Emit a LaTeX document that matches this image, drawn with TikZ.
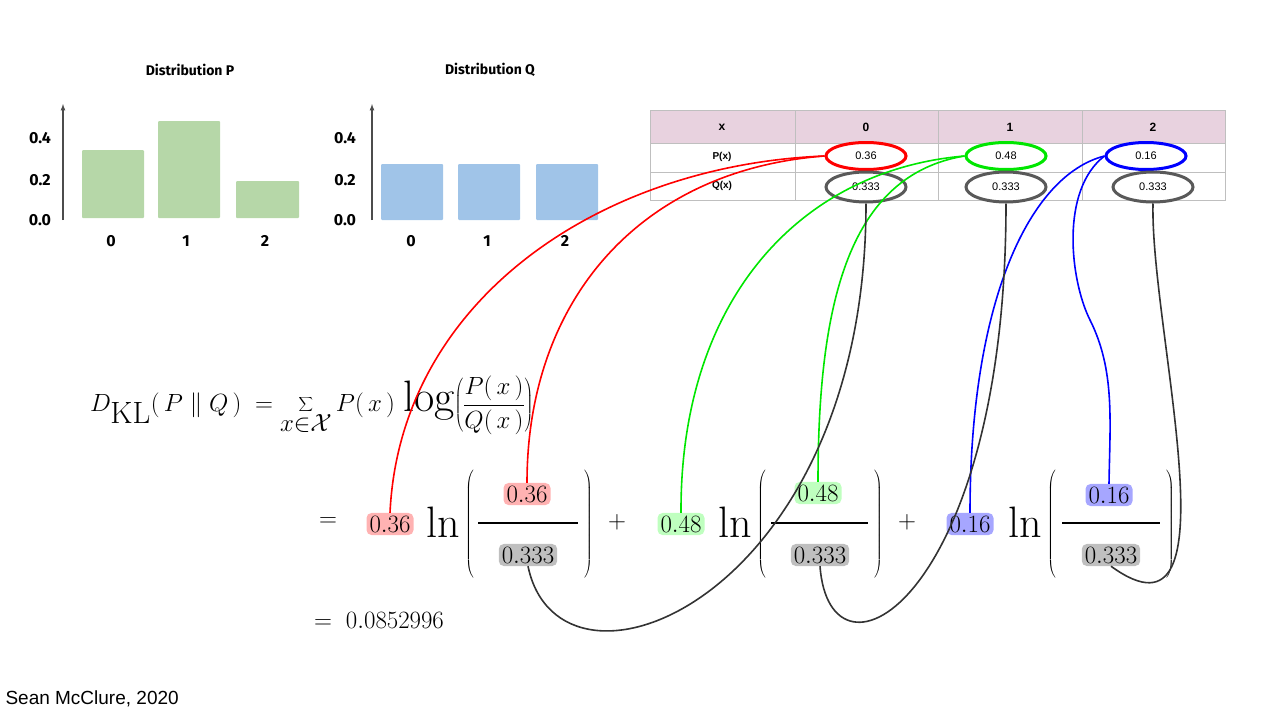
\documentclass[tikz,border=0pt]{standalone}
\usepackage{fontspec}
\usetikzlibrary{shapes.geometric}
\setsansfont{Liberation Sans}
\newfontfamily\chartfont{Fira Sans}
\definecolor{pgreen}{RGB}{182,215,168}
\definecolor{qblue}{RGB}{160,196,232}
\definecolor{hdr}{RGB}{232,210,223}
\definecolor{lgreen}{RGB}{0,230,0}
\begin{document}
\begin{tikzpicture}[x=1pt,y=-1pt,
  ttl/.style={font=\chartfont\bfseries\fontsize{14}{16}\selectfont},
  tick/.style={font=\chartfont\bfseries\fontsize{16}{18}\selectfont},
  cellt/.style={font=\sffamily\bfseries\fontsize{12}{14}\selectfont},
  cellv/.style={font=\sffamily\fontsize{11}{13}\selectfont},
  ell/.style={ellipse, line width=3pt},
  big/.style={font=\fontsize{44}{50}\selectfont, inner sep=2pt},
  hl/.style={big, rounded corners=5pt, inner sep=3pt},
  link/.style={line width=1.6pt}]
\useasboundingbox (0,0) rectangle (1280,715);
% ---- chart P
\node[ttl] (tp) at (190,70) {Distribution P};
\draw[line width=1.2pt, color=black!70, -latex] (63,220) -- (63,104);
\fill[pgreen, rounded corners=1pt] (82,218) rectangle (144,150);
\fill[pgreen, rounded corners=1pt] (158,218) rectangle (220,121);
\fill[pgreen, rounded corners=1pt] (236,218) rectangle (299,181);
\node[tick] at (40,138) {0.4};
\node[tick] at (40,180) {0.2};
\node[tick] at (40,220) {0.0};
\node[tick] at (111,241) {0};
\node[tick] at (186,241) {1};
\node[tick] at (265,241) {2};
% ---- chart Q
\node[ttl] (tq) at (490,70) {Distribution Q};
\draw[line width=1.2pt, color=black!70, -latex] (372,220) -- (372,104);
\fill[qblue, rounded corners=1pt] (381,220) rectangle (443,164);
\fill[qblue, rounded corners=1pt] (458,220) rectangle (520,164);
\fill[qblue, rounded corners=1pt] (536,220) rectangle (598,164);
\node[tick] at (345,138) {0.4};
\node[tick] at (345,180) {0.2};
\node[tick] at (345,220) {0.0};
\node[tick] at (411,241) {0};
\node[tick] at (487,241) {1};
\node[tick] at (565,241) {2};
% ---- table
\fill[hdr] (650,110) rectangle (1225,143);
\draw[black!25, line width=0.8pt] (650,110) rectangle (1225,200);
\foreach \y in {143,172} \draw[black!25, line width=0.8pt] (650,\y) -- (1225,\y);
\foreach \x in {795,938,1082} \draw[black!25, line width=0.8pt] (\x,110) -- (\x,200);
\node[cellt] at (722,127) {x};
\node[cellt] at (866,127) {0};
\node[cellt] at (1010,127) {1};
\node[cellt] at (1153,127) {2};
\node[cellt, font=\sffamily\bfseries\fontsize{10}{12}\selectfont] at (722,157) {P(x)};
\node[cellt, font=\sffamily\bfseries\fontsize{10}{12}\selectfont] at (722,186) {Q(x)};
\node[ell, draw=red, minimum width=80pt, minimum height=27pt, cellv] (p0) at (866,156) {0.36};
\node[ell, draw=lgreen, minimum width=80pt, minimum height=27pt, cellv] (p1) at (1006,156) {0.48};
\node[ell, draw=blue, minimum width=80pt, minimum height=27pt, cellv] (p2) at (1146,156) {0.16};
\node[ell, draw=black!65, minimum width=80pt, minimum height=30pt, cellv] (q0) at (866,187) {0.333};
\node[ell, draw=black!65, minimum width=80pt, minimum height=30pt, cellv] (q1) at (1006,187) {0.333};
\node[ell, draw=black!65, minimum width=80pt, minimum height=30pt, cellv] (q2) at (1153,187) {0.333};
% ---- formula line 1
\node[big, anchor=west] (f1) at (88,405) {$\displaystyle D_{\mathrm{KL}}(\,P\parallel Q\,)\;=\sum_{x\in\mathcal{X}}P(\,x\,)\,\log\!\left(\frac{P(\,x\,)}{Q(\,x\,)}\right)$};
% ---- formula line 2
\node[big] (eq2) at (328,522) {$=$};
\node[hl, fill=red!30] (a0) at (390,524) {$0.36$};
\node[big] (ln0) at (443,522) {ln};
\node[big] (lp0) at (470,525) {$\left(\vrule height 50pt depth 50pt width 0pt\right.$};
\node[hl, fill=red!30] (n0) at (527,494) {$0.36$};
\draw[line width=1.2pt] (478,523) -- (578,523);
\node[hl, fill=black!25] (d0) at (528,555) {$0.333$};
\node[big] (rp0) at (588,525) {$\left.\vrule height 50pt depth 50pt width 0pt\right)$};
\node[big] (pl1) at (617,522) {$+$};
\node[hl, fill=green!25] (a1) at (681,524) {$0.48$};
\node[big] (ln1) at (735,522) {ln};
\node[big] (lp1) at (762,525) {$\left(\vrule height 50pt depth 50pt width 0pt\right.$};
\node[hl, fill=green!25] (n1) at (818,493) {$0.48$};
\draw[line width=1.2pt] (771,523) -- (868,523);
\node[hl, fill=black!25] (d1) at (820,555) {$0.333$};
\node[big] (rp1) at (878,525) {$\left.\vrule height 50pt depth 50pt width 0pt\right)$};
\node[big] (pl2) at (907,522) {$+$};
\node[hl, fill=blue!35] (a2) at (970,524) {$0.16$};
\node[big] (ln2) at (1025,522) {ln};
\node[big] (lp2) at (1052,525) {$\left(\vrule height 50pt depth 50pt width 0pt\right.$};
\node[hl, fill=blue!35] (n2) at (1109,495) {$0.16$};
\draw[line width=1.2pt] (1062,523) -- (1160,523);
\node[hl, fill=black!25] (d2) at (1111,555) {$0.333$};
\node[big] (rp2) at (1170,525) {$\left.\vrule height 50pt depth 50pt width 0pt\right)$};
% ---- line 3
\node[big, anchor=west] (res) at (312,620) {$=\;0.0852996$};
% ---- footer
\node[font=\sffamily\fontsize{19}{22}\selectfont, anchor=west] (ft) at (2,699) {Sean McClure, 2020};
% ---- links
\draw[link, red] (p0.west) .. controls (600,165) and (400,300) .. (a0.north);
\draw[link, red] (p0.west) .. controls (640,170) and (527,300) .. (n0.north);
\draw[link, lgreen] (p1.west) .. controls (800,170) and (680,300) .. (a1.north);
\draw[link, lgreen] (p1.west) .. controls (850,175) and (818,300) .. (n1.north);
\draw[link, blue] (p2.west) .. controls (1030,175) and (970,300) .. (a2.north);
\draw[link, blue] (p2.west) .. controls (1060,190) and (1070,280) .. (1090,320) .. controls (1115,370) and (1110,420) .. (n2.north);
\draw[link, black!80] (q0.south) .. controls (866,600) and (560,720) .. (d0.south);
\draw[link, black!80] (q1.south) .. controls (1006,600) and (830,700) .. (d1.south);
\draw[link, black!80] (q2.south) .. controls (1150,330) and (1240,660) .. (d2.south);
\end{tikzpicture}
\end{document}
